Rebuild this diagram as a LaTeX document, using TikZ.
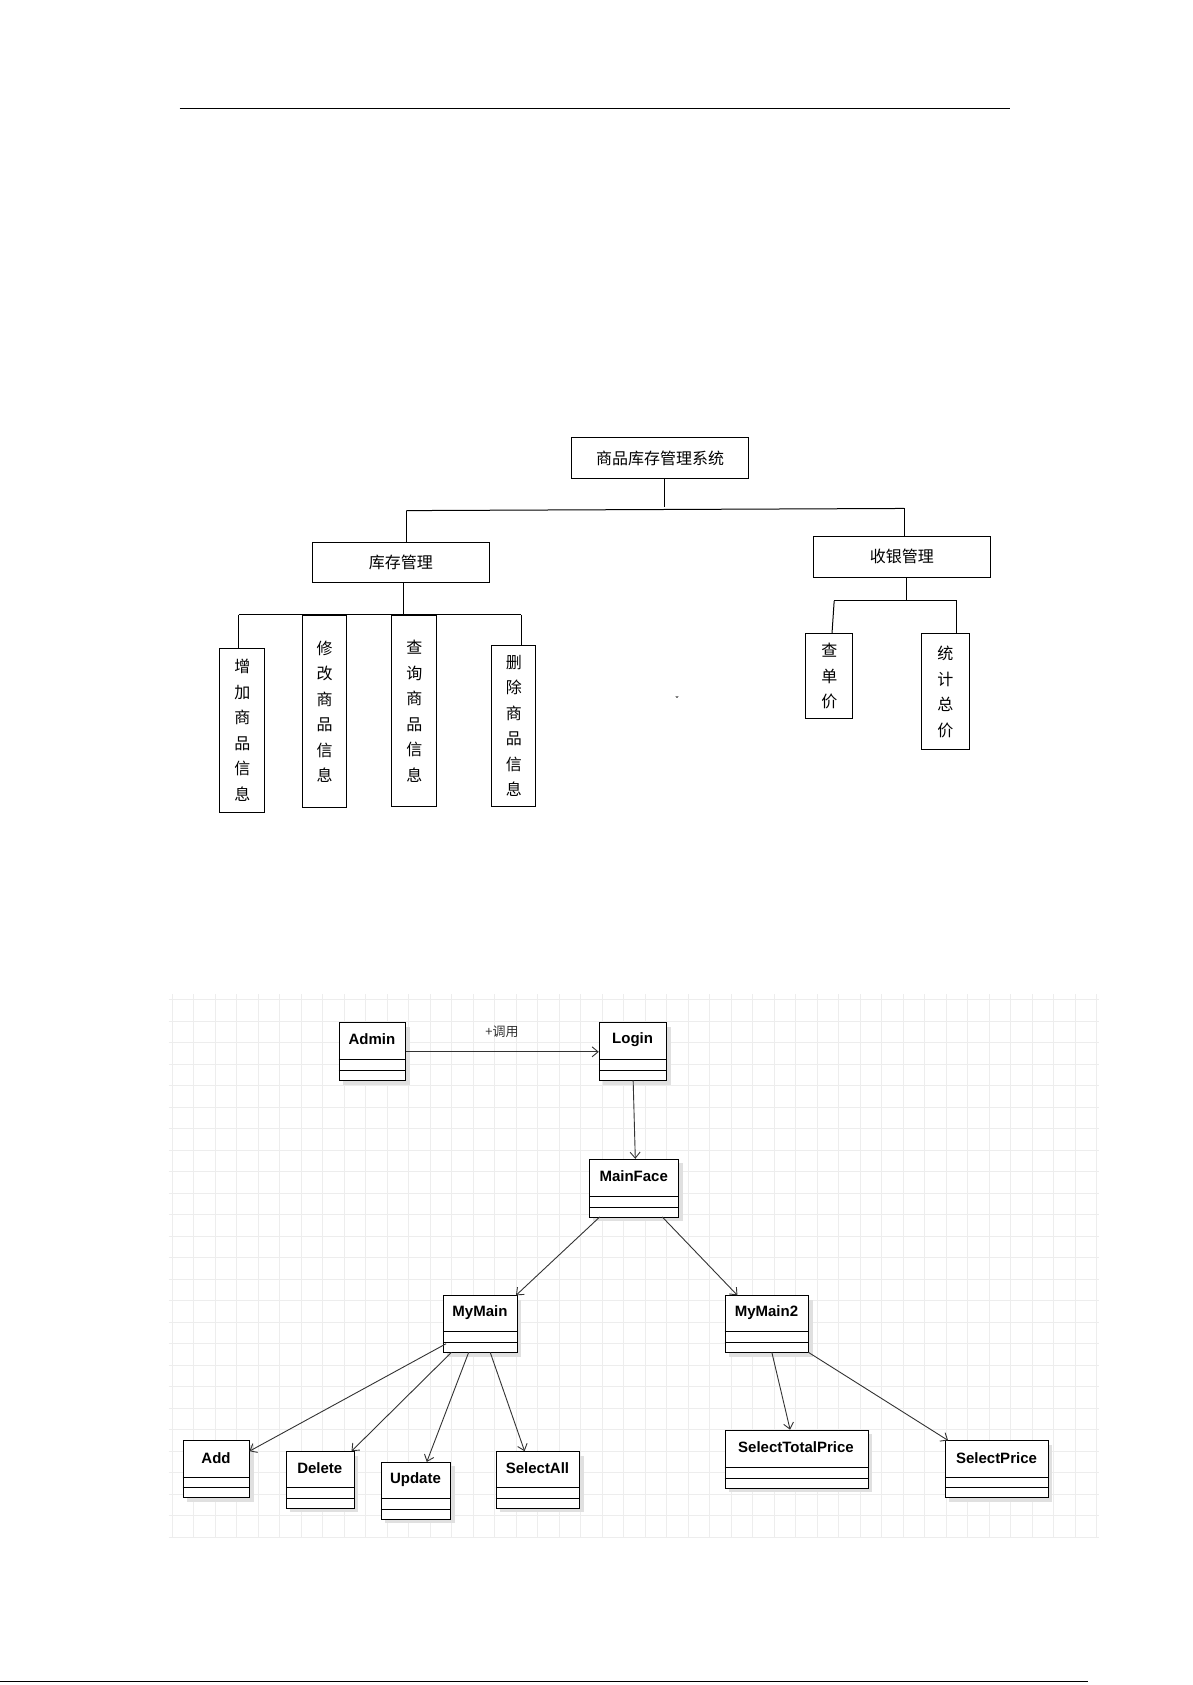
\documentclass[tikz,border=0pt]{standalone}
\usepackage{fontspec}
\setmainfont{Liberation Sans}
\newfontfamily\cjk{Noto Sans CJK SC}
\newfontfamily\djfont{DejaVu Sans}
\usetikzlibrary{arrows.meta}
\begin{document}
\begin{tikzpicture}[x=1.075pt,y=-1.075pt,
  tbox/.style={draw,line width=1pt,inner sep=0pt,font=\cjk\fontsize{16}{16}\selectfont},
  vbox/.style={draw,line width=1pt,inner sep=0pt,anchor=north west,font=\cjk\fontsize{16}{25.5}\selectfont,align=center},
  conn/.style={line width=1pt},
  assoc/.style={line width=0.9pt,draw=black!80,-{Straight Barb[length=6pt,width=10pt]}}]
\useasboundingbox (0,0) rectangle (1109,1567.5);
\fill[white] (0,0) rectangle (1109,1567.5);
\draw[line width=1pt] (167,101) -- (940,101);
% tree
\node[tbox,minimum width=164*1.075,minimum height=38*1.075] (root) at (614,426) {商品库存管理系统};
\node[tbox,minimum width=164*1.075,minimum height=37*1.075] (kc) at (373,523.5) {库存管理};
\node[tbox,minimum width=164*1.075,minimum height=38*1.075] (sy) at (839,518) {收银管理};
\node[vbox,minimum width=42*1.075,minimum height=152*1.075] (a1) at (204,603) {增\\加\\商\\品\\信\\息};
\node[vbox,minimum width=41*1.075,minimum height=179*1.075] (a2) at (281,572) {修\\改\\商\\品\\信\\息};
\node[vbox,minimum width=42*1.075,minimum height=178*1.075] (a3) at (364,572) {查\\询\\商\\品\\信\\息};
\node[vbox,minimum width=41*1.075,minimum height=150*1.075] (a4) at (457,600) {删\\除\\商\\品\\信\\息};
\node[vbox,minimum width=44*1.075,minimum height=79*1.075] (b1) at (749,589) {查\\单\\价};
\node[vbox,minimum width=44*1.075,minimum height=108*1.075] (b2) at (857,589) {统\\计\\总\\价};
\node[font=\djfont\fontsize{10}{10}\selectfont] (mk) at (630,652) {ˇ};
\coordinate (j0) at (618,472);
\coordinate (jl) at (378,475);
\coordinate (jr) at (841,473);
\draw[conn] (root.south -| j0) -- (j0);
\draw[conn] (jl) -- (jr);
\draw[conn] (jl) -- (jl |- kc.north);
\draw[conn] (jr) -- (jr |- sy.north);
\coordinate (k0) at (375,572);
\draw[conn] (kc.south -| k0) -- (k0);
\draw[conn] (222,572) -- (485,572);
\draw[conn] (222,572) -- (222,603);
\draw[conn] (485,572) -- (485,600);
\coordinate (s0) at (843,559);
\draw[conn] (sy.south -| s0) -- (s0);
\draw[conn] (776,559) -- (890,559);
\draw[conn] (776,559) -- (774,589);
\draw[conn] (890,559) -- (890,589);
% grid
\foreach \x in {160,180,...,1020} \draw[black!7,line width=0.6pt] (\x,925) -- (\x,1430);
\foreach \y in {930,950,...,1430} \draw[black!7,line width=0.6pt] (157,\y) -- (1022,\y);
% classes
\newcommand\umlc[6]{%
 \fill[black!12] (#2+4,#3+4) rectangle (#4+4,#5+4);
 \node[draw,line width=1pt,fill=white,inner sep=0pt,anchor=north west,minimum width={(#4-#2)*1.075},minimum height={(#5-#3)*1.075}] (#1) at (#2,#3) {};
 \node[font=\bfseries\fontsize{15}{15}\selectfont] at ({(#2+#4)/2},{#3+16}) {#6};
 \draw[line width=1pt] (#2,{#5-19}) -- (#4,{#5-19});
 \draw[line width=1pt] (#2,{#5-9}) -- (#4,{#5-9});}
\umlc{admin}{315}{951}{377}{1005}{Admin}
\umlc{login}{557}{951}{620}{1005}{Login}
\umlc{mainface}{548}{1078}{631}{1132}{MainFace}
\umlc{mymain}{412}{1205}{481}{1258}{MyMain}
\umlc{mymain2}{674}{1205}{752}{1258}{MyMain2}
\umlc{add}{170}{1340}{232}{1393}{Add}
\umlc{delete}{266}{1350}{329}{1403}{Delete}
\umlc{update}{354}{1360}{419}{1413}{Update}
\umlc{selall}{461}{1350}{539}{1403}{SelectAll}
\umlc{stp}{674}{1330}{807}{1384}{SelectTotalPrice}
\umlc{sp}{879}{1340}{975}{1393}{SelectPrice}
\draw[assoc] (admin.east) -- (login.west);
\node[font=\cjk\fontsize{13}{13}\selectfont,black!80] (lbl) at (467,960) {+调用};
\draw[assoc] (589,1005) -- (591,1078);
\draw[assoc] (558,1132) -- (480,1205);
\draw[assoc] (616,1132) -- (686,1205);
\draw[assoc] (415,1250) -- (232,1350);
\draw[assoc] (420,1258) -- (327,1350);
\draw[assoc] (436,1258) -- (397,1360);
\draw[assoc] (456,1258) -- (488,1350);
\draw[assoc] (718,1258) -- (735,1330);
\draw[assoc] (752,1258) -- (882,1340);
\draw[line width=1pt] (0,1564) -- (1012,1564);
\end{tikzpicture}
\end{document}
